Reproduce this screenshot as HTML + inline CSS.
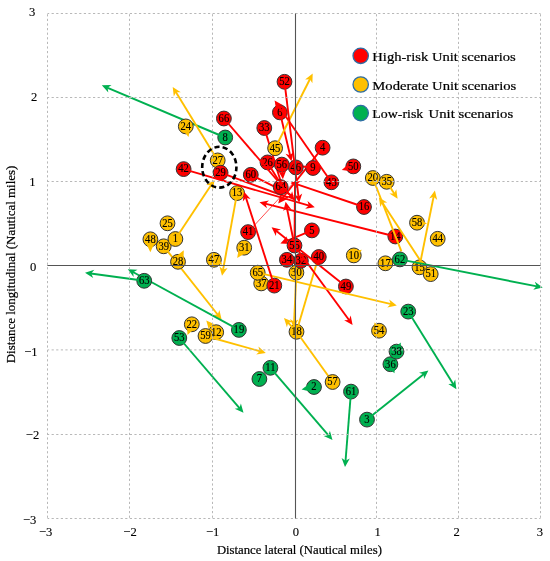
<!DOCTYPE html>
<html><head><meta charset="utf-8"><style>
html,body{margin:0;padding:0;background:#fff;}
svg{display:block;}
.g{stroke:#B8B8B8;stroke-width:1;stroke-dasharray:2.2 2.4;}
.gv{stroke-dashoffset:3.9;}
.gh{stroke-dashoffset:0.5;}
.ax{stroke:#555;stroke-width:1.1;}
.n{font-family:"Liberation Serif",serif;font-size:10.6px;text-anchor:middle;fill:#000;stroke:#000;stroke-width:0.12px;}
.t{font-family:"Liberation Serif",serif;font-size:12.6px;fill:#000;stroke:#000;stroke-width:0.12px;}
.ti{font-family:"Liberation Serif",serif;font-size:12.3px;fill:#000;stroke:#000;stroke-width:0.2px;}
.lg{font-family:"Liberation Serif",serif;font-size:12.6px;fill:#000;stroke:#000;stroke-width:0.2px;}
</style></head><body>
<svg width="550" height="561" viewBox="0 0 550 561">
<rect width="550" height="561" fill="#fff"/>
<circle cx="314.0" cy="387.0" r="7.4" fill="#00B050" stroke="#333" stroke-width="1"/>
<line x1="314.0" y1="387.0" x2="307.3" y2="388.4" stroke="#00B050" stroke-width="1.90"/>
<path d="M301.6 389.6L309.4 383.8L307.8 388.3L311.1 391.8Z" fill="#00B050"/>
<text transform="translate(314.0 390.3) scale(1 1.13)" class="n">2</text>
<circle cx="367.0" cy="419.6" r="7.4" fill="#00B050" stroke="#333" stroke-width="1"/>
<line x1="367.0" y1="419.6" x2="423.9" y2="374.0" stroke="#00B050" stroke-width="1.90"/>
<path d="M428.4 370.4L424.1 379.1L423.5 374.3L419.0 372.7Z" fill="#00B050"/>
<text transform="translate(367.0 422.9) scale(1 1.13)" class="n">3</text>
<circle cx="322.6" cy="147.7" r="7.4" fill="#FF0000" stroke="#333" stroke-width="1"/>
<line x1="322.6" y1="147.7" x2="281.8" y2="199.0" stroke="#FF0000" stroke-width="1.90"/>
<path d="M278.2 203.5L280.5 194.1L282.1 198.6L286.9 199.2Z" fill="#FF0000"/>
<text transform="translate(322.6 151.0) scale(1 1.13)" class="n">4</text>
<circle cx="311.9" cy="230.4" r="7.4" fill="#FF0000" stroke="#333" stroke-width="1"/>
<line x1="311.9" y1="230.4" x2="285.8" y2="241.3" stroke="#FF0000" stroke-width="1.90"/>
<path d="M280.4 243.5L287.0 236.3L286.2 241.1L290.1 243.9Z" fill="#FF0000"/>
<text transform="translate(311.9 233.7) scale(1 1.13)" class="n">5</text>
<circle cx="279.9" cy="112.4" r="7.4" fill="#FF0000" stroke="#333" stroke-width="1"/>
<line x1="279.9" y1="112.4" x2="290.2" y2="155.7" stroke="#FF0000" stroke-width="1.90"/>
<path d="M291.5 161.3L285.5 153.7L290.0 155.2L293.5 151.8Z" fill="#FF0000"/>
<text transform="translate(279.9 115.7) scale(1 1.13)" class="n">6</text>
<circle cx="259.4" cy="379.0" r="7.4" fill="#00B050" stroke="#333" stroke-width="1"/>
<text transform="translate(259.4 382.3) scale(1 1.13)" class="n">7</text>
<circle cx="225.2" cy="137.5" r="7.4" fill="#00B050" stroke="#333" stroke-width="1"/>
<line x1="225.2" y1="137.5" x2="107.1" y2="87.6" stroke="#00B050" stroke-width="1.90"/>
<path d="M101.8 85.3L111.5 85.0L107.6 87.8L108.3 92.5Z" fill="#00B050"/>
<text transform="translate(225.2 140.8) scale(1 1.13)" class="n">8</text>
<circle cx="313.0" cy="168.0" r="7.4" fill="#FF0000" stroke="#333" stroke-width="1"/>
<line x1="313.0" y1="168.0" x2="296.0" y2="165.5" stroke="#FF0000" stroke-width="1.90"/>
<text transform="translate(313.0 171.3) scale(1 1.13)" class="n">9</text>
<circle cx="353.8" cy="255.4" r="7.4" fill="#FFC000" stroke="#333" stroke-width="1"/>
<line x1="353.8" y1="255.4" x2="357.0" y2="253.1" stroke="#FFC000" stroke-width="1.90"/>
<path d="M361.8 249.8L356.9 258.2L356.6 253.4L352.2 251.5Z" fill="#FFC000"/>
<text transform="translate(353.8 258.7) scale(1 1.13)" class="n">10</text>
<circle cx="270.4" cy="367.8" r="7.4" fill="#00B050" stroke="#333" stroke-width="1"/>
<line x1="270.4" y1="367.8" x2="328.7" y2="435.6" stroke="#00B050" stroke-width="1.90"/>
<path d="M332.5 440.0L323.7 436.0L328.4 435.2L329.9 430.7Z" fill="#00B050"/>
<text transform="translate(270.4 371.1) scale(1 1.13)" class="n">11</text>
<circle cx="216.2" cy="332.2" r="7.4" fill="#FFC000" stroke="#333" stroke-width="1"/>
<line x1="216.2" y1="332.2" x2="210.0" y2="324.9" stroke="#FFC000" stroke-width="1.90"/>
<path d="M206.3 320.5L215.1 324.6L210.4 325.3L208.9 329.9Z" fill="#FFC000"/>
<text transform="translate(216.2 335.5) scale(1 1.13)" class="n">12</text>
<circle cx="237.1" cy="193.1" r="7.4" fill="#FFC000" stroke="#333" stroke-width="1"/>
<line x1="237.1" y1="193.1" x2="223.0" y2="270.1" stroke="#FFC000" stroke-width="1.90"/>
<path d="M222.0 275.8L219.5 266.4L223.1 269.6L227.6 267.9Z" fill="#FFC000"/>
<text transform="translate(237.1 196.4) scale(1 1.13)" class="n">13</text>
<circle cx="395.3" cy="236.5" r="7.4" fill="#FF0000" stroke="#333" stroke-width="1"/>
<line x1="395.3" y1="236.5" x2="265.1" y2="203.6" stroke="#FF0000" stroke-width="1.90"/>
<path d="M259.5 202.2L269.0 200.4L265.6 203.7L267.0 208.3Z" fill="#FF0000"/>
<text transform="translate(395.3 239.8) scale(1 1.13)" class="n">14</text>
<circle cx="419.5" cy="267.3" r="7.4" fill="#FFC000" stroke="#333" stroke-width="1"/>
<line x1="420.6" y1="261.0" x2="382.1" y2="202.3" stroke="#FFC000" stroke-width="1.90"/>
<path d="M378.9 197.5L387.2 202.6L382.4 202.8L380.3 207.1Z" fill="#FFC000"/>
<line x1="420.6" y1="261.0" x2="433.7" y2="196.3" stroke="#FFC000" stroke-width="1.90"/>
<path d="M434.9 190.6L437.2 200.0L433.6 196.8L429.1 198.4Z" fill="#FFC000"/>
<text transform="translate(419.5 270.6) scale(1 1.13)" class="n">15</text>
<circle cx="364.0" cy="207.0" r="7.4" fill="#FF0000" stroke="#333" stroke-width="1"/>
<line x1="364.0" y1="207.0" x2="296.5" y2="184.1" stroke="#FF0000" stroke-width="1.90"/>
<path d="M291.0 182.2L300.7 181.1L297.0 184.2L298.0 188.9Z" fill="#FF0000"/>
<text transform="translate(364.0 210.3) scale(1 1.13)" class="n">16</text>
<circle cx="385.4" cy="263.3" r="7.4" fill="#FFC000" stroke="#333" stroke-width="1"/>
<line x1="385.4" y1="263.3" x2="385.4" y2="264.5" stroke="#FFC000" stroke-width="1.90"/>
<path d="M385.5 270.3L381.3 261.6L385.4 264.0L389.5 261.4Z" fill="#FFC000"/>
<text transform="translate(385.4 266.6) scale(1 1.13)" class="n">17</text>
<circle cx="296.5" cy="331.8" r="7.4" fill="#FFC000" stroke="#333" stroke-width="1"/>
<line x1="296.5" y1="331.8" x2="287.9" y2="322.3" stroke="#FFC000" stroke-width="1.90"/>
<path d="M284.0 318.0L292.9 321.8L288.2 322.7L286.9 327.3Z" fill="#FFC000"/>
<line x1="296.5" y1="331.8" x2="332.6" y2="382.0" stroke="#FFC000" stroke-width="1.90"/>
<line x1="296.5" y1="331.8" x2="317.0" y2="262.0" stroke="#FFC000" stroke-width="1.90"/>
<text transform="translate(296.5 335.1) scale(1 1.13)" class="n">18</text>
<circle cx="372.8" cy="178.0" r="7.4" fill="#FFC000" stroke="#333" stroke-width="1"/>
<line x1="372.8" y1="178.0" x2="401.4" y2="251.4" stroke="#FFC000" stroke-width="1.90"/>
<text transform="translate(372.8 181.3) scale(1 1.13)" class="n">20</text>
<circle cx="191.8" cy="324.3" r="7.4" fill="#FFC000" stroke="#333" stroke-width="1"/>
<line x1="191.8" y1="324.3" x2="189.7" y2="329.6" stroke="#FFC000" stroke-width="1.90"/>
<path d="M187.5 335.0L187.0 325.3L189.8 329.2L194.6 328.4Z" fill="#FFC000"/>
<text transform="translate(191.8 327.6) scale(1 1.13)" class="n">22</text>
<circle cx="408.2" cy="311.6" r="7.4" fill="#00B050" stroke="#333" stroke-width="1"/>
<line x1="408.2" y1="311.6" x2="453.3" y2="384.3" stroke="#00B050" stroke-width="1.90"/>
<path d="M456.4 389.2L448.3 383.9L453.1 383.8L455.2 379.6Z" fill="#00B050"/>
<text transform="translate(408.2 314.9) scale(1 1.13)" class="n">23</text>
<circle cx="185.8" cy="126.4" r="7.4" fill="#FFC000" stroke="#333" stroke-width="1"/>
<line x1="185.8" y1="126.4" x2="187.1" y2="131.4" stroke="#FFC000" stroke-width="1.90"/>
<path d="M188.5 137.0L182.4 129.5L186.9 130.9L190.3 127.5Z" fill="#FFC000"/>
<text transform="translate(185.8 129.7) scale(1 1.13)" class="n">24</text>
<circle cx="167.5" cy="223.3" r="7.4" fill="#FFC000" stroke="#333" stroke-width="1"/>
<text transform="translate(167.5 226.6) scale(1 1.13)" class="n">25</text>
<circle cx="267.5" cy="162.4" r="7.4" fill="#FF0000" stroke="#333" stroke-width="1"/>
<line x1="267.5" y1="162.4" x2="282.0" y2="186.0" stroke="#FF0000" stroke-width="1.90"/>
<text transform="translate(267.5 165.7) scale(1 1.13)" class="n">26</text>
<circle cx="217.7" cy="160.4" r="7.4" fill="#FFC000" stroke="#333" stroke-width="1"/>
<line x1="217.7" y1="160.4" x2="175.7" y2="91.8" stroke="#FFC000" stroke-width="1.90"/>
<path d="M172.7 86.9L180.8 92.3L176.0 92.3L173.8 96.5Z" fill="#FFC000"/>
<text transform="translate(217.7 163.7) scale(1 1.13)" class="n">27</text>
<circle cx="220.6" cy="172.7" r="7.4" fill="#FF0000" stroke="#333" stroke-width="1"/>
<line x1="220.6" y1="172.7" x2="288.0" y2="197.5" stroke="#FF0000" stroke-width="1.90"/>
<text transform="translate(220.6 176.0) scale(1 1.13)" class="n">29</text>
<circle cx="296.4" cy="272.6" r="7.4" fill="#FFC000" stroke="#333" stroke-width="1"/>
<line x1="296.4" y1="272.6" x2="294.1" y2="322.2" stroke="#FFC000" stroke-width="1.90"/>
<path d="M293.8 328.0L290.1 319.0L294.1 321.7L298.3 319.4Z" fill="#FFC000"/>
<text transform="translate(296.4 275.9) scale(1 1.13)" class="n">30</text>
<circle cx="244.2" cy="247.7" r="7.4" fill="#FFC000" stroke="#333" stroke-width="1"/>
<line x1="244.2" y1="247.7" x2="240.5" y2="253.1" stroke="#FFC000" stroke-width="1.90"/>
<path d="M237.2 257.9L238.8 248.3L240.8 252.7L245.6 253.0Z" fill="#FFC000"/>
<text transform="translate(244.2 251.0) scale(1 1.13)" class="n">31</text>
<circle cx="300.9" cy="260.8" r="7.4" fill="#FF0000" stroke="#333" stroke-width="1"/>
<text transform="translate(300.9 264.1) scale(1 1.13)" class="n">32</text>
<circle cx="264.3" cy="128.0" r="7.4" fill="#FF0000" stroke="#333" stroke-width="1"/>
<line x1="264.3" y1="128.0" x2="281.5" y2="184.0" stroke="#FF0000" stroke-width="1.90"/>
<text transform="translate(264.3 131.3) scale(1 1.13)" class="n">33</text>
<circle cx="286.9" cy="259.8" r="7.4" fill="#FF0000" stroke="#333" stroke-width="1"/>
<line x1="294.5" y1="245.5" x2="295.0" y2="185.0" stroke="#FF0000" stroke-width="1.90"/>
<text transform="translate(286.9 263.1) scale(1 1.13)" class="n">34</text>
<circle cx="386.7" cy="181.8" r="7.4" fill="#FFC000" stroke="#333" stroke-width="1"/>
<line x1="386.7" y1="181.8" x2="394.5" y2="193.9" stroke="#FFC000" stroke-width="1.90"/>
<path d="M397.6 198.8L389.4 193.6L394.2 193.5L396.3 189.2Z" fill="#FFC000"/>
<text transform="translate(386.7 185.1) scale(1 1.13)" class="n">35</text>
<circle cx="390.4" cy="364.2" r="7.4" fill="#00B050" stroke="#333" stroke-width="1"/>
<line x1="390.4" y1="364.2" x2="392.1" y2="368.0" stroke="#00B050" stroke-width="1.90"/>
<path d="M394.5 373.3L387.1 367.0L391.9 367.6L394.6 363.6Z" fill="#00B050"/>
<text transform="translate(390.4 367.5) scale(1 1.13)" class="n">36</text>
<circle cx="261.2" cy="283.4" r="7.4" fill="#FFC000" stroke="#333" stroke-width="1"/>
<text transform="translate(261.2 286.7) scale(1 1.13)" class="n">37</text>
<circle cx="396.5" cy="351.6" r="7.4" fill="#00B050" stroke="#333" stroke-width="1"/>
<line x1="396.5" y1="351.6" x2="398.3" y2="347.8" stroke="#00B050" stroke-width="1.90"/>
<path d="M400.8 342.6L400.7 352.3L398.1 348.3L393.3 348.8Z" fill="#00B050"/>
<text transform="translate(396.5 354.9) scale(1 1.13)" class="n">38</text>
<circle cx="318.8" cy="257.0" r="7.4" fill="#FF0000" stroke="#333" stroke-width="1"/>
<text transform="translate(318.8 260.3) scale(1 1.13)" class="n">40</text>
<circle cx="248.1" cy="232.1" r="7.4" fill="#FF0000" stroke="#333" stroke-width="1"/>
<line x1="248.1" y1="232.1" x2="292.7" y2="183.7" stroke="#FF0000" stroke-width="0.70"/>
<path d="M294.5 181.8L293.2 186.0L292.6 183.9L290.5 183.5Z" fill="#FF0000"/>
<text transform="translate(248.1 235.4) scale(1 1.13)" class="n">41</text>
<circle cx="183.6" cy="169.1" r="7.4" fill="#FF0000" stroke="#333" stroke-width="1"/>
<line x1="183.6" y1="169.1" x2="309.2" y2="205.7" stroke="#FF0000" stroke-width="1.90"/>
<path d="M314.8 207.3L305.2 208.8L308.8 205.5L307.5 200.9Z" fill="#FF0000"/>
<text transform="translate(183.6 172.4) scale(1 1.13)" class="n">42</text>
<circle cx="331.4" cy="182.3" r="7.4" fill="#FF0000" stroke="#333" stroke-width="1"/>
<line x1="331.4" y1="182.3" x2="277.9" y2="105.2" stroke="#FF0000" stroke-width="1.90"/>
<path d="M274.6 100.4L283.0 105.3L278.2 105.6L276.2 110.0Z" fill="#FF0000"/>
<text transform="translate(331.4 185.6) scale(1 1.13)" class="n">43</text>
<circle cx="437.7" cy="238.8" r="7.4" fill="#FFC000" stroke="#333" stroke-width="1"/>
<text transform="translate(437.7 242.1) scale(1 1.13)" class="n">44</text>
<circle cx="275.1" cy="148.2" r="7.4" fill="#FFC000" stroke="#333" stroke-width="1"/>
<line x1="275.1" y1="148.2" x2="310.1" y2="78.8" stroke="#FFC000" stroke-width="1.90"/>
<path d="M312.7 73.6L312.4 83.3L309.9 79.2L305.1 79.6Z" fill="#FFC000"/>
<text transform="translate(275.1 151.5) scale(1 1.13)" class="n">45</text>
<circle cx="295.8" cy="167.4" r="7.4" fill="#FF0000" stroke="#333" stroke-width="1"/>
<text transform="translate(295.8 170.7) scale(1 1.13)" class="n">46</text>
<circle cx="213.9" cy="259.8" r="7.4" fill="#FFC000" stroke="#333" stroke-width="1"/>
<line x1="213.9" y1="259.8" x2="217.4" y2="261.7" stroke="#FFC000" stroke-width="1.90"/>
<path d="M222.5 264.5L212.8 263.9L217.0 261.5L216.7 256.7Z" fill="#FFC000"/>
<text transform="translate(213.9 263.1) scale(1 1.13)" class="n">47</text>
<circle cx="150.4" cy="239.3" r="7.4" fill="#FFC000" stroke="#333" stroke-width="1"/>
<line x1="150.4" y1="239.3" x2="150.3" y2="246.5" stroke="#FFC000" stroke-width="1.90"/>
<path d="M150.3 252.3L146.3 243.5L150.3 246.0L154.5 243.5Z" fill="#FFC000"/>
<text transform="translate(150.4 242.6) scale(1 1.13)" class="n">48</text>
<circle cx="163.7" cy="246.3" r="7.4" fill="#FFC000" stroke="#333" stroke-width="1"/>
<line x1="163.7" y1="246.3" x2="218.0" y2="315.0" stroke="#FFC000" stroke-width="1.90"/>
<path d="M221.6 319.5L212.9 315.1L217.7 314.6L219.4 310.1Z" fill="#FFC000"/>
<text transform="translate(163.7 249.6) scale(1 1.13)" class="n">39</text>
<circle cx="175.4" cy="239.0" r="7.4" fill="#FFC000" stroke="#333" stroke-width="1"/>
<line x1="175.4" y1="239.0" x2="211.3" y2="184.8" stroke="#FFC000" stroke-width="1.90"/>
<path d="M214.5 180.0L213.1 189.6L211.0 185.3L206.2 185.1Z" fill="#FFC000"/>
<text transform="translate(175.4 242.3) scale(1 1.13)" class="n">1</text>
<circle cx="238.9" cy="329.9" r="7.4" fill="#00B050" stroke="#333" stroke-width="1"/>
<line x1="238.9" y1="329.9" x2="132.9" y2="272.0" stroke="#00B050" stroke-width="1.90"/>
<path d="M127.8 269.2L137.5 269.8L133.3 272.2L133.6 277.0Z" fill="#00B050"/>
<text transform="translate(238.9 333.2) scale(1 1.13)" class="n">19</text>
<circle cx="178.0" cy="261.8" r="7.4" fill="#FFC000" stroke="#333" stroke-width="1"/>
<line x1="178.0" y1="261.8" x2="181.2" y2="255.4" stroke="#FFC000" stroke-width="1.90"/>
<path d="M183.8 250.2L183.5 259.9L181.0 255.8L176.2 256.2Z" fill="#FFC000"/>
<text transform="translate(178.0 265.1) scale(1 1.13)" class="n">28</text>
<circle cx="345.9" cy="286.5" r="7.4" fill="#FF0000" stroke="#333" stroke-width="1"/>
<line x1="345.9" y1="286.5" x2="276.1" y2="230.8" stroke="#FF0000" stroke-width="1.90"/>
<path d="M271.6 227.2L281.0 229.5L276.5 231.1L275.9 235.9Z" fill="#FF0000"/>
<text transform="translate(345.9 289.8) scale(1 1.13)" class="n">49</text>
<circle cx="353.3" cy="166.4" r="7.4" fill="#FF0000" stroke="#333" stroke-width="1"/>
<line x1="353.3" y1="166.4" x2="347.3" y2="168.3" stroke="#FF0000" stroke-width="1.90"/>
<path d="M341.8 170.0L349.0 163.5L347.8 168.1L351.4 171.3Z" fill="#FF0000"/>
<text transform="translate(353.3 169.7) scale(1 1.13)" class="n">50</text>
<circle cx="430.7" cy="274.1" r="7.4" fill="#FFC000" stroke="#333" stroke-width="1"/>
<text transform="translate(430.7 277.4) scale(1 1.13)" class="n">51</text>
<circle cx="284.5" cy="81.8" r="7.4" fill="#FF0000" stroke="#333" stroke-width="1"/>
<line x1="284.5" y1="81.8" x2="298.5" y2="196.9" stroke="#FF0000" stroke-width="1.90"/>
<path d="M299.2 202.7L294.1 194.5L298.4 196.4L302.2 193.5Z" fill="#FF0000"/>
<text transform="translate(284.5 85.1) scale(1 1.13)" class="n">52</text>
<circle cx="179.3" cy="338.0" r="7.4" fill="#00B050" stroke="#333" stroke-width="1"/>
<line x1="179.3" y1="338.0" x2="239.7" y2="408.4" stroke="#00B050" stroke-width="1.90"/>
<path d="M243.5 412.8L234.7 408.8L239.4 408.0L240.9 403.5Z" fill="#00B050"/>
<text transform="translate(179.3 341.3) scale(1 1.13)" class="n">53</text>
<circle cx="379.0" cy="330.7" r="7.4" fill="#FFC000" stroke="#333" stroke-width="1"/>
<line x1="379.0" y1="330.7" x2="377.2" y2="327.4" stroke="#FFC000" stroke-width="1.90"/>
<path d="M374.3 322.4L382.2 328.0L377.4 327.9L375.1 332.1Z" fill="#FFC000"/>
<text transform="translate(379.0 334.0) scale(1 1.13)" class="n">54</text>
<circle cx="294.5" cy="245.5" r="7.4" fill="#FF0000" stroke="#333" stroke-width="1"/>
<line x1="294.5" y1="245.5" x2="286.8" y2="207.4" stroke="#FF0000" stroke-width="1.90"/>
<path d="M285.6 201.7L291.4 209.5L286.9 207.9L283.3 211.1Z" fill="#FF0000"/>
<line x1="294.5" y1="245.5" x2="349.2" y2="320.3" stroke="#FF0000" stroke-width="1.90"/>
<path d="M352.6 325.0L344.1 320.3L348.9 319.9L350.7 315.5Z" fill="#FF0000"/>
<text transform="translate(294.5 248.8) scale(1 1.13)" class="n">55</text>
<circle cx="281.8" cy="164.6" r="7.4" fill="#FF0000" stroke="#333" stroke-width="1"/>
<line x1="281.8" y1="164.6" x2="282.5" y2="173.5" stroke="#FF0000" stroke-width="1.90"/>
<path d="M282.9 179.3L278.2 170.8L282.4 173.0L286.3 170.2Z" fill="#FF0000"/>
<text transform="translate(281.8 167.9) scale(1 1.13)" class="n">56</text>
<circle cx="332.6" cy="382.0" r="7.4" fill="#FFC000" stroke="#333" stroke-width="1"/>
<text transform="translate(332.6 385.3) scale(1 1.13)" class="n">57</text>
<circle cx="417.0" cy="222.7" r="7.4" fill="#FFC000" stroke="#333" stroke-width="1"/>
<line x1="417.0" y1="222.7" x2="421.2" y2="223.0" stroke="#FFC000" stroke-width="1.90"/>
<path d="M427.0 223.4L417.9 226.9L420.7 223.0L418.5 218.7Z" fill="#FFC000"/>
<text transform="translate(417.0 226.0) scale(1 1.13)" class="n">58</text>
<circle cx="205.5" cy="336.0" r="7.4" fill="#FFC000" stroke="#333" stroke-width="1"/>
<line x1="205.5" y1="336.0" x2="260.2" y2="351.3" stroke="#FFC000" stroke-width="1.90"/>
<path d="M265.8 352.9L256.2 354.5L259.7 351.2L258.4 346.6Z" fill="#FFC000"/>
<text transform="translate(205.5 339.3) scale(1 1.13)" class="n">59</text>
<circle cx="250.8" cy="174.8" r="7.4" fill="#FF0000" stroke="#333" stroke-width="1"/>
<line x1="250.8" y1="174.8" x2="293.0" y2="196.0" stroke="#FF0000" stroke-width="1.90"/>
<text transform="translate(250.8 178.1) scale(1 1.13)" class="n">60</text>
<circle cx="351.0" cy="391.6" r="7.4" fill="#00B050" stroke="#333" stroke-width="1"/>
<line x1="351.0" y1="391.6" x2="345.5" y2="461.2" stroke="#00B050" stroke-width="1.90"/>
<path d="M345.0 467.0L341.6 457.9L345.5 460.7L349.8 458.6Z" fill="#00B050"/>
<text transform="translate(351.0 394.9) scale(1 1.13)" class="n">61</text>
<circle cx="399.9" cy="259.4" r="7.4" fill="#00B050" stroke="#333" stroke-width="1"/>
<line x1="399.9" y1="259.4" x2="537.0" y2="286.4" stroke="#00B050" stroke-width="1.90"/>
<path d="M542.7 287.5L533.3 289.8L536.5 286.3L534.9 281.8Z" fill="#00B050"/>
<text transform="translate(399.9 262.7) scale(1 1.13)" class="n">62</text>
<circle cx="144.2" cy="280.8" r="7.4" fill="#00B050" stroke="#333" stroke-width="1"/>
<line x1="144.2" y1="280.8" x2="90.7" y2="273.5" stroke="#00B050" stroke-width="1.90"/>
<path d="M85.0 272.7L94.3 269.8L91.2 273.6L93.2 278.0Z" fill="#00B050"/>
<text transform="translate(144.2 284.1) scale(1 1.13)" class="n">63</text>
<circle cx="280.7" cy="187.1" r="7.4" fill="#FF0000" stroke="#333" stroke-width="1"/>
<text transform="translate(280.7 190.4) scale(1 1.13)" class="n">64</text>
<circle cx="257.7" cy="272.7" r="7.4" fill="#FFC000" stroke="#333" stroke-width="1"/>
<line x1="257.7" y1="272.7" x2="391.2" y2="304.1" stroke="#FFC000" stroke-width="1.90"/>
<path d="M396.8 305.4L387.3 307.4L390.7 304.0L389.2 299.4Z" fill="#FFC000"/>
<text transform="translate(257.7 276.0) scale(1 1.13)" class="n">65</text>
<circle cx="274.3" cy="285.6" r="7.4" fill="#FF0000" stroke="#333" stroke-width="1"/>
<line x1="274.3" y1="285.6" x2="245.8" y2="197.3" stroke="#FF0000" stroke-width="1.90"/>
<path d="M244.0 191.8L250.6 198.9L245.9 197.8L242.8 201.4Z" fill="#FF0000"/>
<text transform="translate(274.3 288.9) scale(1 1.13)" class="n">21</text>
<circle cx="223.9" cy="118.5" r="7.4" fill="#FF0000" stroke="#333" stroke-width="1"/>
<line x1="223.9" y1="118.5" x2="290.9" y2="196.1" stroke="#FF0000" stroke-width="1.90"/>
<path d="M294.7 200.5L285.8 196.5L290.6 195.7L292.1 191.2Z" fill="#FF0000"/>
<text transform="translate(223.9 121.8) scale(1 1.13)" class="n">66</text>
<line x1="47.5" y1="13.5" x2="47.5" y2="518.5" class="g gv"/>
<line x1="129.5" y1="13.5" x2="129.5" y2="518.5" class="g gv"/>
<line x1="212.5" y1="13.5" x2="212.5" y2="518.5" class="g gv"/>
<line x1="295.5" y1="13.5" x2="295.5" y2="518.5" class="g gv"/>
<line x1="376.5" y1="13.5" x2="376.5" y2="518.5" class="g gv"/>
<line x1="458.5" y1="13.5" x2="458.5" y2="518.5" class="g gv"/>
<line x1="540.5" y1="13.5" x2="540.5" y2="518.5" class="g gv"/>
<line x1="47.5" y1="13.5" x2="540.5" y2="13.5" class="g gh"/>
<line x1="47.5" y1="97.5" x2="540.5" y2="97.5" class="g gh"/>
<line x1="47.5" y1="181.5" x2="540.5" y2="181.5" class="g gh"/>
<line x1="47.5" y1="265.5" x2="540.5" y2="265.5" class="g gh"/>
<line x1="47.5" y1="349.9" x2="540.5" y2="349.9" class="g gh"/>
<line x1="47.5" y1="434.5" x2="540.5" y2="434.5" class="g gh"/>
<line x1="47.5" y1="518.5" x2="540.5" y2="518.5" class="g gh"/>
<line x1="295.5" y1="13.5" x2="295.5" y2="518.5" class="ax"/>
<line x1="47.5" y1="265.5" x2="540.5" y2="265.5" class="ax"/>
<ellipse cx="219.3" cy="167.2" rx="17.1" ry="20.4" fill="none" stroke="#000" stroke-width="2.6" stroke-dasharray="5.2 3.2" stroke-dashoffset="1"/>
<text x="45.7" y="536.3" class="t" text-anchor="middle">−3</text>
<text x="130.0" y="536.3" class="t" text-anchor="middle">−2</text>
<text x="212.7" y="536.3" class="t" text-anchor="middle">−1</text>
<text x="296.0" y="536.3" class="t" text-anchor="middle">0</text>
<text x="377.6" y="536.3" class="t" text-anchor="middle">1</text>
<text x="456.6" y="536.3" class="t" text-anchor="middle">2</text>
<text x="540.0" y="536.3" class="t" text-anchor="middle">3</text>
<text x="35.3" y="15.9" class="t" text-anchor="end">3</text>
<text x="37.3" y="101.2" class="t" text-anchor="end">2</text>
<text x="35.6" y="185.9" class="t" text-anchor="end">1</text>
<text x="36.4" y="270.6" class="t" text-anchor="end">0</text>
<text x="37.6" y="355.9" class="t" text-anchor="end">−1</text>
<text x="39.2" y="438.6" class="t" text-anchor="end">−2</text>
<text x="36.3" y="524.2" class="t" text-anchor="end">−3</text>
<text x="216.9" y="553.7" class="ti" textLength="165" lengthAdjust="spacingAndGlyphs">Distance lateral (Nautical miles)</text>
<text transform="translate(14.75 363.2) rotate(-90)" class="ti" textLength="197.5" lengthAdjust="spacingAndGlyphs">Distance longitudinal (Nautical miles)</text>
<circle cx="360.7" cy="55.8" r="7.7" fill="#FF0000" stroke="#2E6DA4" stroke-width="1.3"/>
<text x="372.3" y="61.4" class="lg" textLength="143.5" lengthAdjust="spacingAndGlyphs">High-risk Unit scenarios</text>
<circle cx="360.7" cy="84.5" r="7.7" fill="#FFC000" stroke="#2E6DA4" stroke-width="1.3"/>
<text x="372.3" y="90.2" class="lg" textLength="144.0" lengthAdjust="spacingAndGlyphs">Moderate Unit scenarios</text>
<circle cx="360.7" cy="113.1" r="7.7" fill="#00B050" stroke="#2E6DA4" stroke-width="1.3"/>
<text x="372.3" y="118.4" class="lg" textLength="51.0" lengthAdjust="spacingAndGlyphs">Low-risk</text>
<text x="428.6" y="118.4" class="lg" textLength="84.6" lengthAdjust="spacingAndGlyphs">Unit scenarios</text>
</svg>
</body></html>
